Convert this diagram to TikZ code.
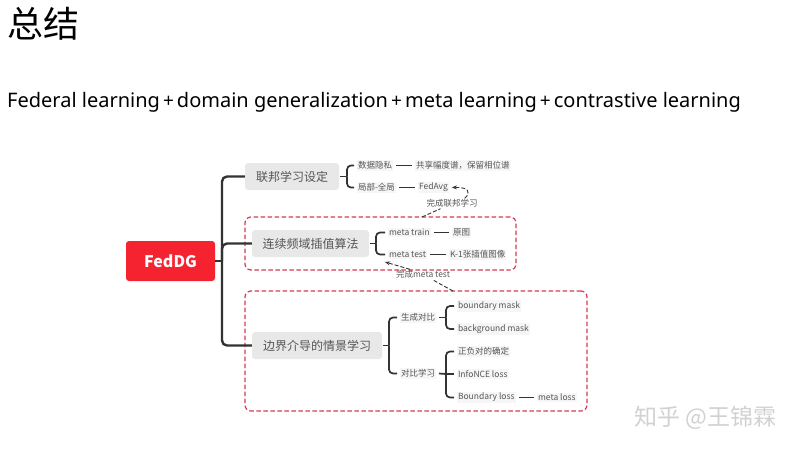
\documentclass[tikz,border=0pt]{standalone}
\usepackage{fontspec}
\setmainfont{Noto Sans CJK SC}
\newfontfamily\latinfont{Noto Sans}
\definecolor{rootred}{HTML}{F5222F}
\definecolor{topicgray}{HTML}{E8E8E8}
\definecolor{leafgray}{HTML}{F6F6F6}
\definecolor{textgray}{HTML}{555555}
\definecolor{boxred}{HTML}{D63A55}
\definecolor{linkdark}{HTML}{333333}
\usetikzlibrary{arrows.meta}
\newcommand{\plusgap}{\makebox[17pt]{\fontsize{19}{20}\selectfont +}}
\tikzset{
  rootnode/.style={rectangle,fill=rootred,rounded corners=3pt,minimum width=89pt,minimum height=40pt,text=white,font=\fontsize{16}{18}\selectfont\bfseries,inner sep=0pt},
  topicnode/.style={rectangle,fill=topicgray,rounded corners=3pt,minimum height=27pt,text=textgray,font=\fontsize{12}{14}\selectfont,inner sep=0pt},
  leafnode/.style={rectangle,fill=leafgray,anchor=west,text=textgray,font=\fontsize{8.5}{10}\selectfont,inner xsep=1pt,inner ysep=1.5pt,outer sep=3pt},
  marknode/.style={text=textgray,font=\fontsize{8.5}{10}\selectfont,inner sep=1pt},
  branch/.style={draw=linkdark,line width=1.7pt,rounded corners=4pt},
  trunkline/.style={draw=linkdark,line width=2.4pt,rounded corners=5pt},
  areabox/.style={draw=boxred,dash pattern=on 4.5pt off 2.5pt,line width=1.2pt,rounded corners=6pt,inner sep=0pt},
  relation/.style={draw=linkdark,dash pattern=on 4pt off 2pt,line width=.9pt}
}
\begin{document}
\begin{tikzpicture}[x=1pt,y=-1pt]
\useasboundingbox (0,0) rectangle (800,450);
\node[anchor=west,inner sep=0pt,font=\fontsize{36}{40}\selectfont,text=black] (title) at (7,24) {总结};
\node[anchor=west,inner sep=0pt,font=\fontsize{20}{24}\selectfont\latinfont,text=black] (subtitle) at (7,102) {Federal learning\plusgap domain generalization\plusgap meta learning\plusgap contrastive learning};
\node[areabox,minimum width=271pt,minimum height=53pt] (fedbox) at (380.5,243.5) {};
\node[areabox,minimum width=342pt,minimum height=120pt] (contrastbox) at (416,351) {};
\node[rootnode] (root) at (170.5,261) {FedDG};
\node[topicnode,minimum width=94pt] (setting) at (292,176.5) {联邦学习设定};
\node[topicnode,minimum width=117pt] (freq) at (310.5,243.5) {连续频域插值算法};
\node[topicnode,minimum width=130pt] (episode) at (317,345.5) {边界介导的情景学习};
\coordinate (trunk) at (222,261);
\draw[trunkline] (root.east) -- (trunk);
\draw[trunkline] (trunk) |- (setting.west);
\draw[trunkline] (trunk) |- (freq.west);
\draw[trunkline] (trunk) |- (episode.west);
\node[leafnode] (privacy) at (354,165.5) {数据隐私};
\node[leafnode] (amplitude) at (412,165.5) {共享幅度谱，保留相位谱};
\node[leafnode] (local) at (354,187.5) {局部-全局};
\node[leafnode] (fedavg) at (415,187.5) {FedAvg};
\node[leafnode] (metatrain) at (385,232.5) {meta train};
\node[leafnode] (origin) at (449,232.5) {原图};
\node[leafnode] (metatest) at (385,254.5) {meta test};
\node[leafnode] (interp) at (446,254.5) {K-1张插值图像};
\node[leafnode] (generate) at (397,317.5) {生成对比};
\node[leafnode] (learn) at (397,373.5) {对比学习};
\node[leafnode] (boundmask) at (454,306) {boundary mask};
\node[leafnode] (backmask) at (454,329) {background mask};
\node[leafnode] (pairs) at (454,351.5) {正负对的确定};
\node[leafnode] (infonce) at (454,374) {InfoNCE loss};
\node[leafnode] (boundloss) at (454,397.5) {Boundary loss};
\node[leafnode] (metaloss) at (534,397.5) {meta loss};
\coordinate (fork1) at (347,176.5);
\coordinate (fork2) at (376,243.5);
\coordinate (fork3) at (389,345.5);
\coordinate (fork4) at (446,317.5);
\coordinate (fork5) at (446,374);
\draw[branch] (setting.east) ++(1,0) -- (fork1);
\draw[branch] (fork1) |- (privacy.west);
\draw[branch] (fork1) |- (local.west);
\draw[branch] (freq.east) ++(1,0) -- (fork2);
\draw[branch] (fork2) |- (metatrain.west);
\draw[branch] (fork2) |- (metatest.west);
\draw[branch] (episode.east) ++(1,0) -- (fork3);
\draw[branch] (fork3) |- (generate.west);
\draw[branch] (fork3) |- (learn.west);
\draw[branch] (generate.east) -- (fork4);
\draw[branch] (fork4) |- (boundmask.west);
\draw[branch] (fork4) |- (backmask.west);
\draw[branch] (learn.east) -- (fork5);
\draw[branch] (fork5) |- (pairs.west);
\draw[branch] (fork5) -- (infonce.west);
\draw[branch] (fork5) |- (boundloss.west);
\draw[branch] (privacy.east) -- (amplitude.west);
\draw[branch] (local.east) -- (fedavg.west);
\draw[branch] (metatrain.east) -- (origin.west);
\draw[branch] (metatest.east) -- (interp.west);
\draw[branch] (boundloss.east) -- (metaloss.west);
\node[marknode] (donefed) at (452,203.5) {完成联邦学习};
\node[marknode] (donemeta) at (423,274.5) {完成meta test};
\coordinate (fedlink) at (422,217);
\coordinate (contrastlink) at (453,291);
\draw[relation] (fedlink) -- (donefed);
\draw[relation,-{Stealth[length=5pt,width=4pt]}] (donefed.north east) ++(-14,0) .. controls (472,192) and (468,187) .. (fedavg.east);
\draw[relation] (contrastlink) -- (donemeta);
\draw[relation,-{Stealth[length=5pt,width=4pt]}] (donemeta.north) ++(-13,0) -- (metatest.south west);
\node[anchor=west,inner sep=0pt,font=\fontsize{23}{25}\selectfont,text=black!18] (mark) at (634,418) {知乎 @王锦霖};
\end{tikzpicture}
\end{document}
